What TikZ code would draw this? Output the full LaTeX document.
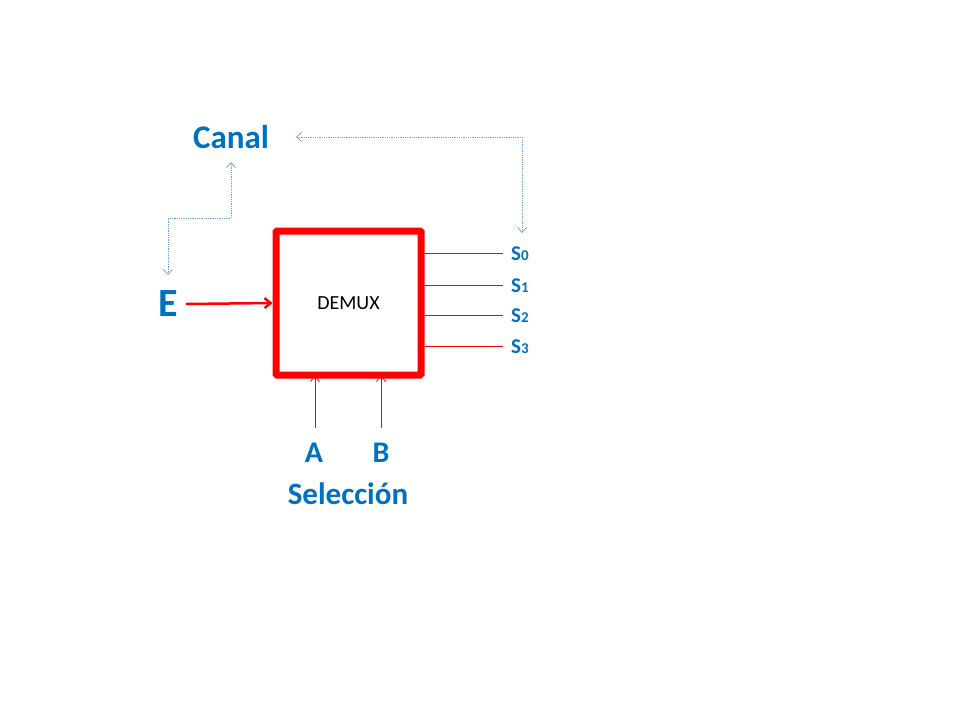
\documentclass[tikz,border=0pt]{standalone}
\usepackage{fontspec}
\setmainfont{Carlito}
\usetikzlibrary{arrows.meta}
\definecolor{tblue}{HTML}{0070C0}
\definecolor{lblue}{HTML}{6FA0DC}
\begin{document}
\begin{tikzpicture}[x=1pt,y=-1pt,
 lab/.style={text=tblue,font=\bfseries,inner sep=0pt},
 sig/.style={red,line width=0.8pt},
 dot/.style={lblue,densely dotted,line width=0.8pt,{Straight Barb[length=5pt,width=9pt]}-{Straight Barb[length=5pt,width=9pt]}}]
\useasboundingbox (0,0) rectangle (960,720);
\node[draw=red,line width=7pt,minimum width=145pt,minimum height=144pt,rounded corners=1pt,font=\fontsize{20}{22}\selectfont] (dm) at (348.5,303) {DEMUX};
\node[lab,font=\bfseries\fontsize{33}{36}\selectfont] (canal) at (231,137) {Canal};
\node[lab,font=\bfseries\fontsize{40}{42}\selectfont] (E) at (168,304) {E};
\node[lab,font=\bfseries\fontsize{30}{32}\selectfont] (A) at (314,453) {A};
\node[lab,font=\bfseries\fontsize{30}{32}\selectfont] (B) at (381,453) {B};
\node[lab,font=\bfseries\fontsize{31}{32}\selectfont] (sel) at (348,494) {Selección};
\foreach \i/\y in {0/254,1/286,2/316,3/347}{
 \node[lab,anchor=west,font=\bfseries\fontsize{21}{22}\selectfont] (s\i) at (511,\y) {S{\fontsize{15}{16}\selectfont\i}};
 \coordinate (o\i) at (503,\y-0.5);
 \draw[sig] (o\i -| dm.east) -- (o\i);
}
\draw[red,line width=2.5pt,-{Straight Barb[length=6pt,width=10pt]}] (E.east)+(8,0) -- (dm.west);
\coordinate (a0) at (315,428);\coordinate (b0) at (381,428);
\draw[sig,-{Straight Barb[length=6pt,width=9pt]}] (a0) -- (315,375);
\draw[sig,-{Straight Barb[length=6pt,width=9pt]}] (b0) -- (381,375);
\coordinate (c1) at (231,162);\coordinate (e1) at (168,275);
\draw[dot] (c1) -- (231,218) -- (168,218) -- (e1);
\coordinate (c2) at (296,137);\coordinate (s0t) at (522,233);
\draw[dot] (c2) -- (522,137) -- (s0t);
\end{tikzpicture}
\end{document}
